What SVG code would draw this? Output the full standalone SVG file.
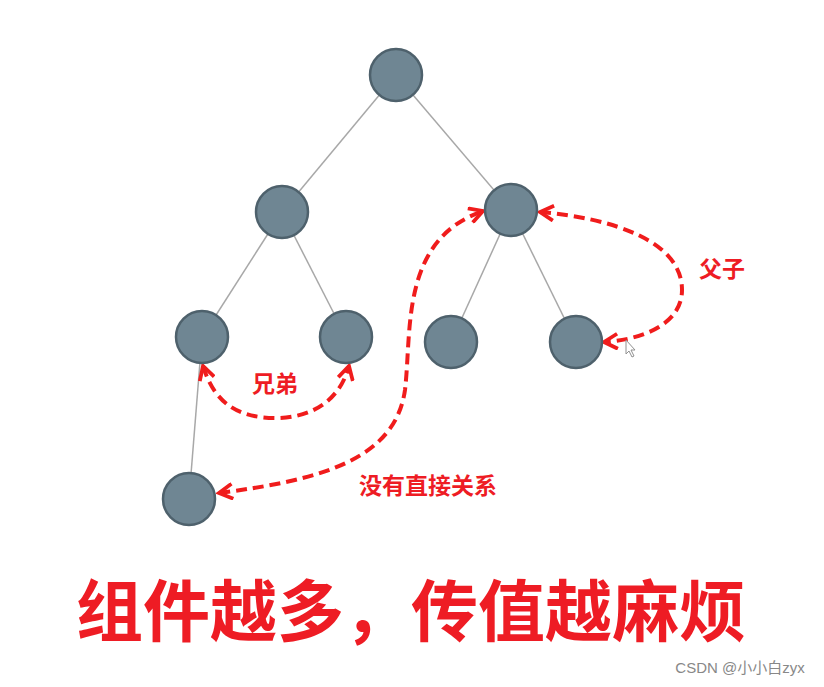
<svg xmlns="http://www.w3.org/2000/svg" width="824" height="687" viewBox="0 0 824 687">
<defs>
<style>
.node{fill:#6f8693;stroke:#4e616c;stroke-width:2.5}
.edge{stroke:#a8a8a8;stroke-width:1.5;fill:none}
.dash{stroke:#f01c1c;stroke-width:4;fill:none;stroke-dasharray:11 6}
.lbl{font-family:"Noto Sans CJK SC","Noto Sans",sans-serif;font-weight:bold;fill:#ee1c24}
</style>
<marker id="ah" viewBox="0 0 12 12" refX="10" refY="6" markerWidth="4.5" markerHeight="4.5" orient="auto-start-reverse" markerUnits="strokeWidth">
<path d="M1,1 L10,6 L1,11" fill="none" stroke="#f01c1c" stroke-width="2.5"/>
</marker>
</defs>
<rect width="824" height="687" fill="#ffffff"/>
<g id="connectors">
<line class="edge" x1="396" y1="75" x2="282" y2="212"/>
<line class="edge" x1="396" y1="75" x2="511" y2="210"/>
<line class="edge" x1="282" y1="212" x2="202" y2="337"/>
<line class="edge" x1="282" y1="212" x2="346" y2="337"/>
<line class="edge" x1="511" y1="210" x2="451" y2="342"/>
<line class="edge" x1="511" y1="210" x2="576" y2="342"/>
<line class="edge" x1="202" y1="337" x2="189" y2="499"/>
<path class="dash" marker-start="url(#ah)" marker-end="url(#ah)" d="M203,366 C215,405 240,418 276,418 C312,418 340,400 349,366"/>
<path class="dash" marker-start="url(#ah)" marker-end="url(#ah)" d="M540,212 C610,218 682,240 682,290 C682,325 640,340 604,342"/>
<path class="dash" marker-start="url(#ah)" marker-end="url(#ah)" d="M219,493 C320,480 395,460 405,390 C412,330 400,240 483,211"/>
</g>
<g id="n-root"><circle class="node" cx="396" cy="75" r="26"/></g>
<g id="n-l"><circle class="node" cx="282" cy="212" r="26"/></g>
<g id="n-r"><circle class="node" cx="511" cy="210" r="26"/></g>
<g id="n-ll"><circle class="node" cx="202" cy="337" r="26"/></g>
<g id="n-lr"><circle class="node" cx="346" cy="337" r="26"/></g>
<g id="n-rl"><circle class="node" cx="451" cy="342" r="26"/></g>
<g id="n-rr"><circle class="node" cx="576" cy="342" r="26"/></g>
<g id="n-bottom"><circle class="node" cx="189" cy="499" r="26"/></g>
<g id="cursor"><path d="M626,340 L626,354 L629,351 L632,357 L634,356 L631,350 L635,350 Z" fill="#ffffff" stroke="#909090" stroke-width="1"/></g>
<g id="labels">
<text class="lbl" x="275" y="392" font-size="23" text-anchor="middle">兄弟</text>
<text class="lbl" x="722" y="277" font-size="23" text-anchor="middle">父子</text>
<text class="lbl" x="428" y="494" font-size="23" text-anchor="middle">没有直接关系</text>
<text class="lbl" x="411" y="636" font-size="67" text-anchor="middle" font-weight="900">组件越多，传值越麻烦</text>
<text x="740" y="673" font-size="15" text-anchor="middle" fill="#888888" font-family="'Liberation Sans','Noto Sans CJK SC',sans-serif">CSDN @小小白zyx</text>
</g>
</svg>
